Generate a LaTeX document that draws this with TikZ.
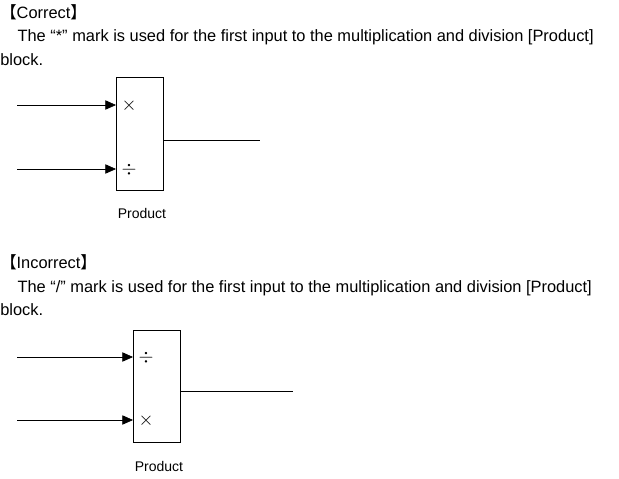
\documentclass[tikz,border=0pt]{standalone}
\usepackage{fontspec}
\setmainfont{Liberation Sans}
\newfontfamily\cjk{Noto Sans CJK JP}
\usetikzlibrary{arrows.meta}
\begin{document}
\begin{tikzpicture}[x=0.75pt,y=-0.75pt,
  txt/.style={anchor=west,inner sep=0,font=\fontsize{12.3}{14}\selectfont},
  blk/.style={draw,line width=0.6pt,inner sep=0,anchor=north west},
  sig/.style={line width=0.5pt,-{Triangle[length=8pt,width=7pt]}},
  lbl/.style={inner sep=0,font=\fontsize{10.5}{12}\selectfont},
  sym/.style={inner sep=0,font=\fontsize{15}{17}\selectfont}]
\useasboundingbox (0,0) rectangle (619,479);
\node[txt] (t1) at (0,12) {{\cjk 【}Correct{\cjk 】}};
\node[txt] (t2) at (0,37) {\hspace{13pt}The “*” mark is used for the first input to the multiplication and division [Product]};
\node[txt] (t3) at (0,60) {block.};
\node[blk,minimum width=35.25pt,minimum height=84.75pt] (b1) at (116,77) {};
\coordinate (i1) at (17,105); \coordinate (i2) at (17,169);
\draw[sig] (i1) -- (b1.west|-i1);
\draw[sig] (i2) -- (b1.west|-i2);
\node[sym] (m1) at (129,106) {$\times$};
\node[sym] (d1) at (129,170) {$\div$};
\coordinate (o1) at (260,140);
\draw[line width=0.5pt] (b1.east|-o1) -- (o1);
\node[lbl] (p1) at (142,213) {Product};

\node[txt] (t4) at (0,262) {{\cjk 【}Incorrect{\cjk 】}};
\node[txt] (t5) at (0,288) {\hspace{13pt}The “/” mark is used for the first input to the multiplication and division [Product]};
\node[txt] (t6) at (0,310) {block.};
\node[blk,minimum width=35.25pt,minimum height=84pt] (b2) at (133,330) {};
\coordinate (i3) at (17,357); \coordinate (i4) at (17,420);
\draw[sig] (i3) -- (b2.west|-i3);
\draw[sig] (i4) -- (b2.west|-i4);
\node[sym] (d2) at (146,358) {$\div$};
\node[sym] (m2) at (146,421) {$\times$};
\coordinate (o2) at (293,391);
\draw[line width=0.5pt] (b2.east|-o2) -- (o2);
\node[lbl] (p2) at (159,466) {Product};
\end{tikzpicture}
\end{document}
